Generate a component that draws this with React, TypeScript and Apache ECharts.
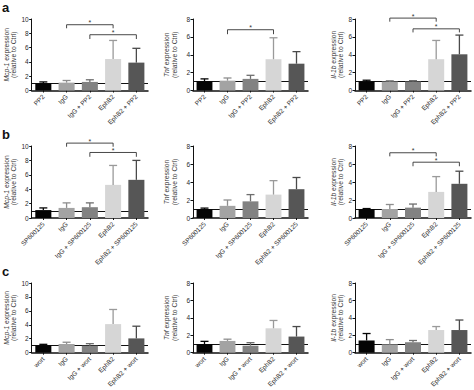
import React, { useEffect, useRef } from "react";
import * as echarts from "echarts";

const catA = ["PP2", "IgG", "IgG + PP2", "EphB2", "EphB2 + PP2"];
const catB = ["SP600125", "IgG", "IgG + SP600125", "EphB2", "EphB2 + SP600125"];
const catC = ["wort", "IgG", "IgG + wort", "EphB2", "EphB2 + wort"];

const genes = ["Mcp-1", "Tnf", "Il-1b"];
const yMax = [10, 8, 8];

// means and tops of error bars
const aMcpMean = [1.0, 1.1, 1.2, 4.4, 3.9];
const aMcpTop = [1.2, 1.4, 1.5, 7.0, 5.9];
const aTnfMean = [1.05, 1.1, 1.3, 3.5, 3.0];
const aTnfTop = [1.3, 1.4, 1.7, 5.9, 4.35];
const aIlMean = [1.0, 1.0, 1.0, 3.5, 4.05];
const aIlTop = [1.15, 1.1, 1.1, 5.6, 6.2];

const bMcpMean = [1.1, 1.4, 1.5, 4.6, 5.3];
const bMcpTop = [1.4, 2.1, 2.1, 7.3, 8.0];
const bTnfMean = [1.0, 1.35, 1.85, 2.6, 3.2];
const bTnfTop = [1.1, 2.0, 2.6, 4.15, 4.5];
const bIlMean = [1.0, 1.0, 1.15, 2.9, 3.8];
const bIlTop = [1.05, 1.5, 1.55, 4.6, 5.2];

const cMcpMean = [1.05, 1.25, 1.0, 4.1, 2.05];
const cMcpTop = [1.2, 1.5, 1.3, 6.2, 3.8];
const cTnfMean = [1.0, 1.35, 0.8, 2.8, 1.85];
const cTnfTop = [1.3, 1.55, 1.15, 3.7, 3.0];
const cIlMean = [1.4, 0.95, 1.2, 2.6, 2.6];
const cIlTop = [2.2, 1.5, 1.4, 3.0, 3.75];

// significance brackets: [fromIndex, toIndex, level, tickEnd]
const aMcpSig = [[1, 3, 9.2, 8.7], [2, 4, 7.8, 7.2]];
const aTnfSig = [[1, 3, 6.8, 6.3]];
const aIlSig = [[1, 3, 8.1, 7.7], [2, 4, 6.9, 6.5]];
const bMcpSig = [[1, 3, 10.4, 9.9], [2, 4, 9.1, 8.5]];
const bTnfSig: number[][] = [];
const bIlSig = [[1, 3, 7.25, 6.85], [2, 4, 6.2, 5.75]];
const cSig: number[][] = [];

const panelLetters = ["a", "b", "c"];

const rows = [
  { cats: catA, means: [aMcpMean, aTnfMean, aIlMean], tops: [aMcpTop, aTnfTop, aIlTop], sig: [aMcpSig, aTnfSig, aIlSig] },
  { cats: catB, means: [bMcpMean, bTnfMean, bIlMean], tops: [bMcpTop, bTnfTop, bIlTop], sig: [bMcpSig, bTnfSig, bIlSig] },
  { cats: catC, means: [cMcpMean, cTnfMean, cIlMean], tops: [cMcpTop, cTnfTop, cIlTop], sig: [cSig, cSig, cSig] },
];

const FONT = "'Liberation Sans', Arial, sans-serif";
const barColors = ["#050505", "#a3a3a3", "#828282", "#d6d6d6", "#565656"];
const whiskColors = ["#050505", "#8e8e8e", "#6e6e6e", "#9a9a9a", "#4a4a4a"];

const colLeft = [31.7, 193, 355];
const colWidth = [116.3, 115, 116];
const rowTop = [19, 146, 283];
const rowHeight = [71.5, 72, 71.5];
const nameGaps = [11, 15, 7];
const letterY = [13.5, 140.5, 277.5];

export default function App() {
  const ref = useRef<HTMLDivElement>(null);
  useEffect(() => {
    if (!ref.current) return;
    const chart = echarts.init(ref.current, null, { renderer: "svg" });
    const grid: any[] = [];
    const xAxis: any[] = [];
    const yAxis: any[] = [];
    const series: any[] = [];
    rows.forEach((row, r) => {
      for (let c = 0; c < 3; c++) {
        const p = r * 3 + c;
        grid.push({ left: colLeft[c], top: rowTop[r], width: colWidth[c], height: rowHeight[r] });
        xAxis.push({
          gridIndex: p,
          type: "category",
          data: row.cats,
          axisLine: { lineStyle: { color: "#111", width: 1.5 } },
          axisTick: { show: true, alignWithLabel: true, length: 2, lineStyle: { color: "#111" } },
          axisLabel: { rotate: 45, fontSize: 6.5, color: "#2a2a2a", margin: 5, interval: 0, fontFamily: FONT },
        });
        yAxis.push({
          gridIndex: p,
          type: "value",
          min: 0,
          max: yMax[c],
          interval: 2,
          axisLine: { show: true, lineStyle: { color: "#111", width: 1 } },
          axisTick: { show: true, length: 2.5, lineStyle: { color: "#111" } },
          splitLine: { show: false },
          axisLabel: { fontSize: 6.5, color: "#2a2a2a", margin: 3, fontFamily: FONT },
          name: "{i|" + genes[c] + "} expression\n(relative to Ctrl)",
          nameLocation: "middle",
          nameRotate: 90,
          nameGap: nameGaps[c],
          nameTextStyle: {
            fontSize: 6.8,
            color: "#3a3a3a",
            lineHeight: 7.5,
            fontFamily: FONT,
            rich: { i: { fontStyle: "italic", fontSize: 6.8, color: "#3a3a3a", lineHeight: 7.5, fontFamily: FONT } },
          },
        });
        const means = row.means[c];
        const tops = row.tops[c];
        series.push({
          type: "line",
          xAxisIndex: p,
          yAxisIndex: p,
          data: [],
          z: 1,
          markLine: {
            silent: true,
            symbol: "none",
            label: { show: false },
            lineStyle: { color: "#111", width: 1, type: "solid" },
            data: [{ yAxis: 1 }],
            z: 1,
          },
        });
        series.push({
          type: "bar",
          xAxisIndex: p,
          yAxisIndex: p,
          barWidth: "69%",
          z: 3,
          data: means.map((v, i) => ({ value: v, itemStyle: { color: barColors[i] } })),
        });
        series.push({
          type: "custom",
          xAxisIndex: p,
          yAxisIndex: p,
          z: 4,
          clip: false,
          data: means.map((v, i) => [i, v, tops[i]]),
          renderItem: (params: any, api: any) => {
            const i = api.value(0);
            const b = api.coord([i, api.value(1)]);
            const t = api.coord([i, api.value(2)]);
            const col = whiskColors[params.dataIndex];
            return {
              type: "group",
              children: [
                { type: "line", shape: { x1: b[0], y1: b[1], x2: t[0], y2: t[1] }, style: { stroke: col, lineWidth: 1.3 } },
                { type: "line", shape: { x1: t[0] - 4, y1: t[1], x2: t[0] + 4, y2: t[1] }, style: { stroke: col, lineWidth: 1.3 } },
              ],
            };
          },
        });
        const sig = row.sig[c];
        if (sig.length) {
          series.push({
            type: "custom",
            xAxisIndex: p,
            yAxisIndex: p,
            z: 5,
            clip: false,
            data: sig,
            renderItem: (_params: any, api: any) => {
              const a = api.coord([api.value(0), api.value(2)]);
              const b = api.coord([api.value(1), api.value(2)]);
              const e = api.coord([api.value(0), api.value(3)]);
              return {
                type: "group",
                children: [
                  {
                    type: "polyline",
                    shape: { points: [[a[0], e[1]], [a[0], a[1]], [b[0], b[1]], [b[0], e[1]]] },
                    style: { stroke: "#333", lineWidth: 0.9, fill: "none" },
                  },
                  {
                    type: "text",
                    x: (a[0] + b[0]) / 2,
                    y: a[1] - 2,
                    style: { text: "*", fontSize: 7, fill: "#333", align: "center", verticalAlign: "middle", fontFamily: FONT },
                  },
                ],
              };
            },
          });
        }
      }
    });
    const graphic = panelLetters.map((l, r) => ({
      type: "text",
      x: 2,
      y: letterY[r],
      style: { text: l, fontSize: 13, fontWeight: "bold", fill: "#111", verticalAlign: "bottom", fontFamily: FONT },
    }));
    chart.setOption({ animation: false, backgroundColor: "#fff", grid, xAxis, yAxis, series, graphic });
    return () => chart.dispose();
  }, []);
  return <div ref={ref} style={{ position: "fixed", left: 0, top: 0, width: 474, height: 390 }} />;
}
